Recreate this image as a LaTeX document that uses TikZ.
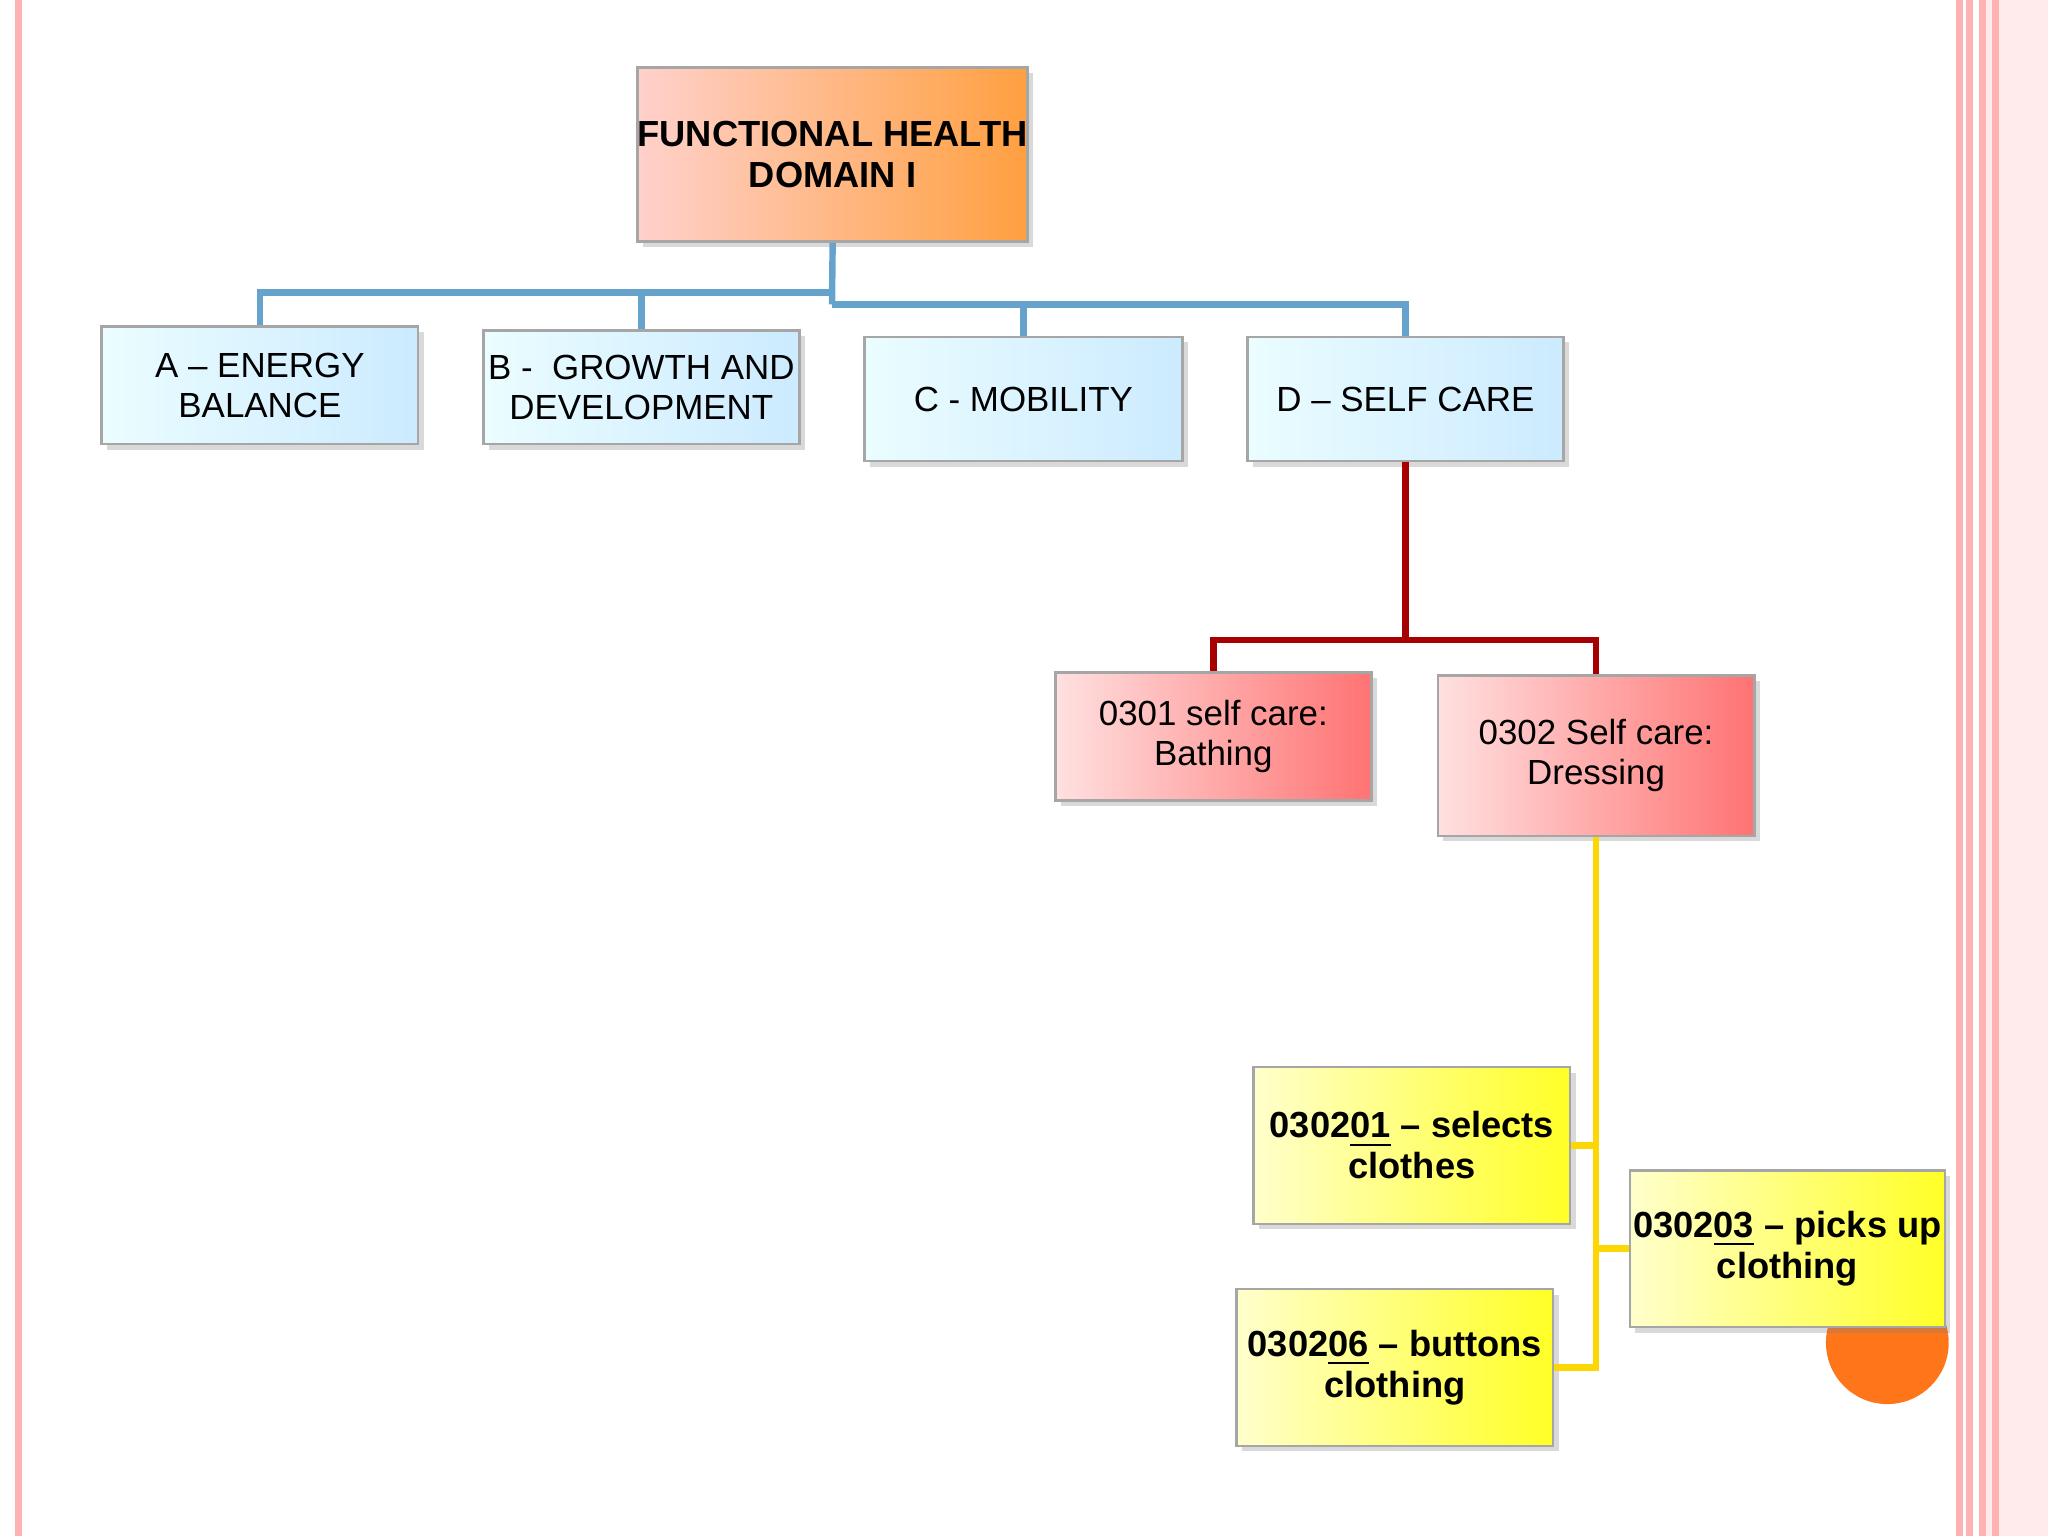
\documentclass[tikz,border=0pt]{standalone}
\usepackage{fontspec}
\setmainfont{Liberation Sans}
\usetikzlibrary{shadows}
\begin{document}
\begin{tikzpicture}[x=0.01cm,y=-0.01cm,
  box/.style={draw=gray!70,line width=0.6pt,drop shadow={opacity=0.3,shadow xshift=1.2pt,shadow yshift=-1.2pt},align=center,inner sep=0pt,font=\fontsize{7.6}{8.6}\selectfont},
  bx/.style={box,left color=blue!10!cyan!8!white,right color=blue!40!cyan!20!white},
  rx/.style={box,left color=red!12,right color=red!55!white},
  yx/.style={box,left color=yellow!20,right color=yellow!85,font=\fontsize{7.9}{8.9}\selectfont\bfseries},
  bl/.style={draw=blue!40!cyan!50!gray!80,line width=1.4pt},
  rd/.style={draw=red!65!black,line width=1.4pt},
  yl/.style={draw=yellow!75!orange,line width=1.4pt}]
\useasboundingbox (0,0) rectangle (1568,1176);
% frame
\draw[red!30,line width=1.5pt] (14,0) -- (14,1176);
\fill[red!8] (1518,0) rectangle (1568,1176);
\draw[red!30,line width=1.5pt] (1500,0) -- (1500,1176) (1508,0)--(1508,1176) (1518,0)--(1518,1176) (1528,0)--(1528,1176);
\fill[orange!80!red!90] (1445,1028) circle (47);
% nodes
\node[box,left color=orange!20!red!20!white,right color=orange!75,minimum width=2.91cm,minimum height=1.33cm,font=\fontsize{7.9}{8.9}\selectfont\bfseries] (top) at (637.5,118.5) {FUNCTIONAL HEALTH\\DOMAIN I};
\node[bx,minimum width=2.42cm,minimum height=0.9cm] (a) at (199,295) {A -- ENERGY\\BALANCE};
\node[bx,minimum width=2.42cm,minimum height=0.87cm] (b) at (491,296.5) {B -\ \ GROWTH AND\\DEVELOPMENT};
\node[bx,minimum width=2.43cm,minimum height=0.95cm] (c) at (783.5,305.5) {C - MOBILITY};
\node[bx,minimum width=2.42cm,minimum height=0.95cm] (d) at (1076,305.5) {D -- SELF CARE};
\node[rx,minimum width=2.42cm,minimum height=0.98cm] (e) at (929,564) {0301 self care:\\Bathing};
\node[rx,minimum width=2.42cm,minimum height=1.23cm] (f) at (1222,578.5) {0302 Self care:\\Dressing};
\node[yx,minimum width=2.42cm,minimum height=1.2cm] (g) at (1081,877) {0302\underline{01} -- selects\\clothes};
\node[yx,minimum width=2.41cm,minimum height=1.2cm] (h) at (1368.5,956) {0302\underline{03} -- picks up\\clothing};
\node[yx,minimum width=2.42cm,minimum height=1.2cm] (i) at (1068,1047) {0302\underline{06} -- buttons\\clothing};
% blue connectors
\coordinate (j1) at (637,224);
\coordinate (j2) at (637,233);
\draw[bl] (top.south) -- (j2);
\draw[bl] (a.north) |- (j1);
\draw[bl] (b.north) -- (b.north|-j1);
\draw[bl] (j2) -| (d.north);
\draw[bl] (c.north) -- (c.north|-j2);
% red
\coordinate (r) at (1076,490);
\draw[rd] (d.south) -- (r);
\draw[rd] (r) -| (e.north);
\draw[rd] (r) -| (f.north);
% yellow
\coordinate (y) at (1222,1047);
\draw[yl] (f.south) -- (y) -- (i.east);
\draw[yl] (g.east) -- (g.east-|y);
\draw[yl] (h.west) -- (h.west-|y);
\end{tikzpicture}
\end{document}
